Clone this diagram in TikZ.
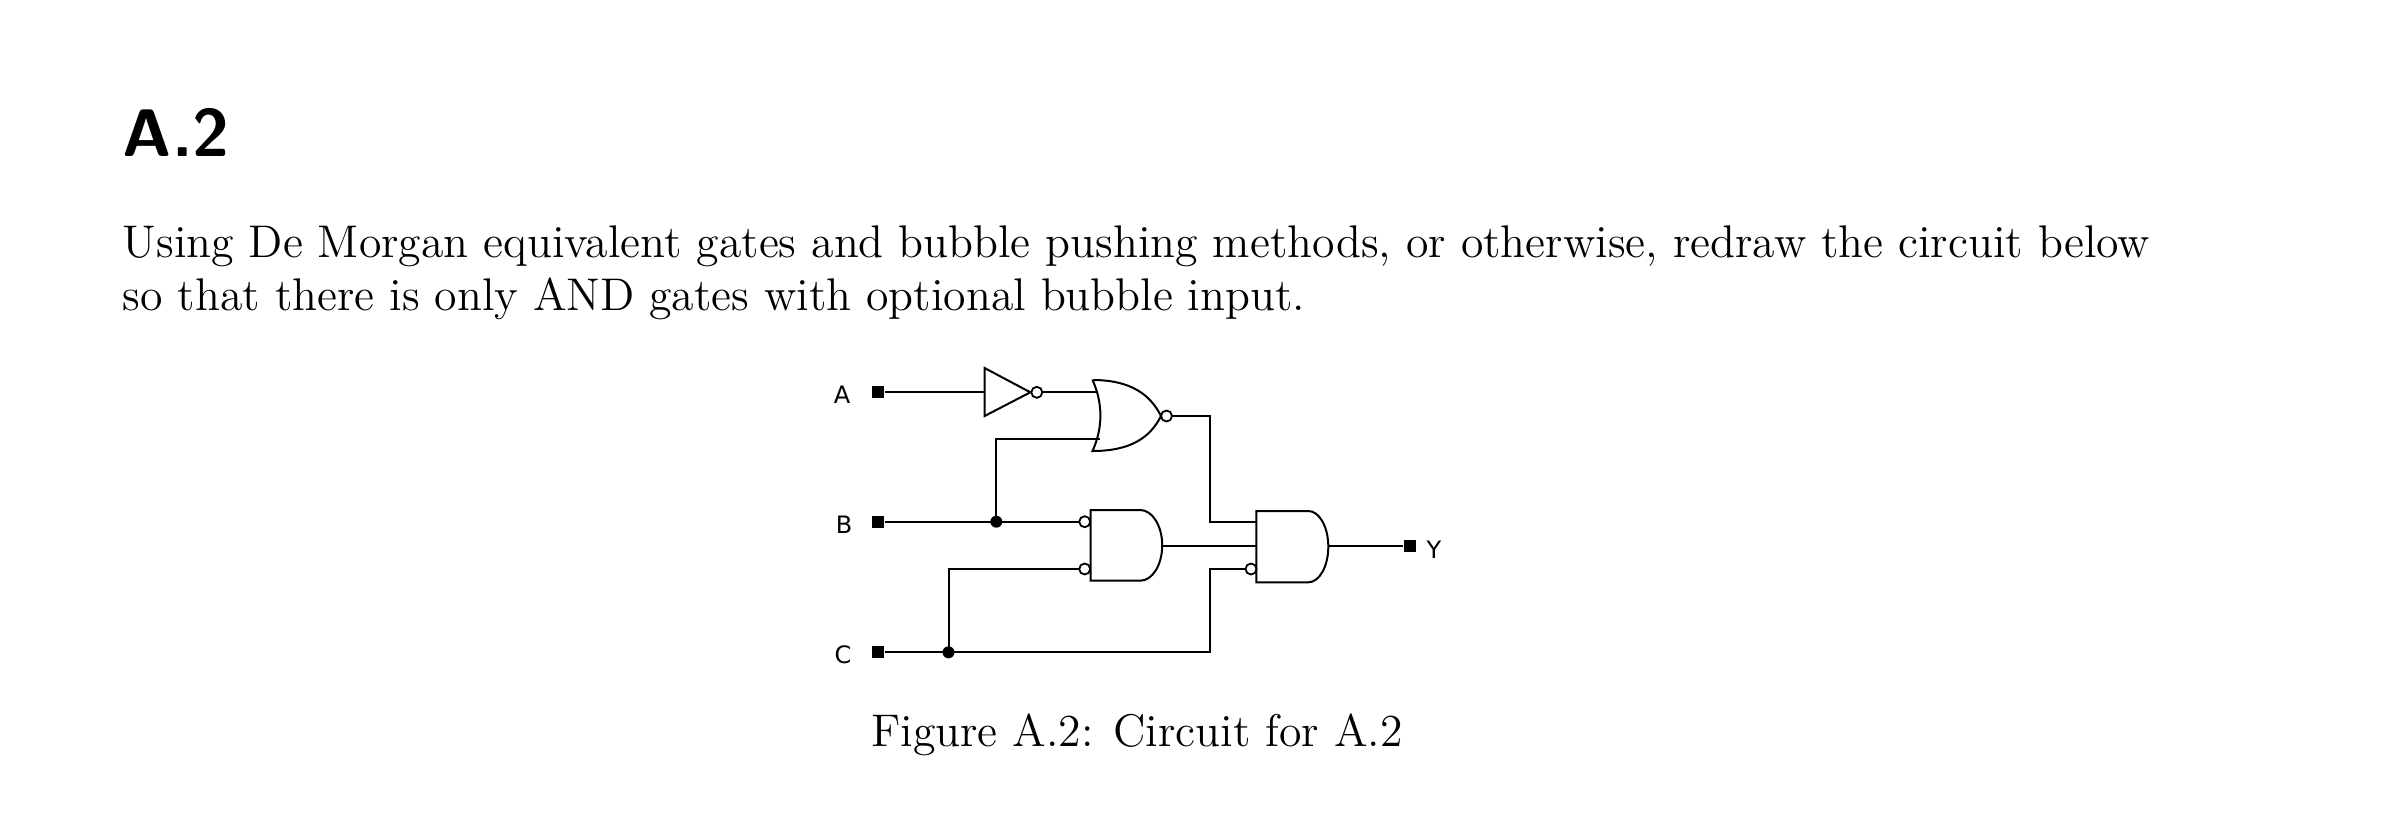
\documentclass[tikz,border=0pt]{standalone}
\usepackage{fontspec}
\newfontfamily\lblfont{DejaVu Sans}
\begin{document}
\begin{tikzpicture}[x=0.25pt,y=-0.25pt,
  wire/.style={line width=0.5pt},
  term/.style={fill=black,minimum size=3pt,inner sep=0pt},
  bub/.style={draw,fill=white,line width=0.45pt},
  lbl/.style={font=\lblfont\fontsize{6}{7}\selectfont},
  body/.style={font=\fontsize{11.45}{14}\selectfont,inner sep=0pt}]
\useasboundingbox (0,0) rectangle (2396,836);
\node[anchor=base west,inner sep=0pt,font=\sffamily\bfseries\fontsize{16.8}{20}\selectfont] (h) at (122,156) {A.2};
\node[body,anchor=base west] (l1) at (122,257) {Using De Morgan equivalent gates and bubble pushing methods, or otherwise, redraw the circuit below};
\node[body,anchor=base west] (l2) at (122,310) {so that there is only AND gates with optional bubble input.};
\node[body,anchor=base] (cap) at (1137,746) {Figure A.2: Circuit for A.2};
% terminals
\node[term] (A) at (878,392.3) {};
\node[term] (B) at (878,521.7) {};
\node[term] (C) at (878,652.3) {};
\node[term] (Y) at (1410,545.7) {};
\node[lbl] (la) at (842,395) {A};
\node[lbl] (lb) at (844,525) {B};
\node[lbl] (lc) at (843,655) {C};
\node[lbl] (ly) at (1434,550) {Y};
\coordinate (Bj) at (996.3,521.7);
\coordinate (Cj) at (948.5,652.3);
% NOT
\draw[wire] (A) -- (984.6,392.3);
\draw[wire] (984.6,368) -- (1030.3,392.3) -- (984.6,416) -- cycle;
\draw[wire] (1042.3,392.3) -- (1096,392.3);
\draw[bub] (1036.8,392.3) circle (5.5);
% OR
\draw[wire] (1092.5,380) .. controls (1103,403) and (1103,428) .. (1092.5,451)
  .. controls (1130,451) and (1150,438) .. (1161,416)
  .. controls (1150,394) and (1130,380) .. (1092.5,380);
\draw[bub] (1166.5,416) circle (5.5);
\draw[wire] (1172,416) -- (1209.5,416) -- (1209.5,521.7) -- (1256.4,521.7);
% B
\draw[wire] (B) -- (1078.7,521.7);
\draw[wire] (Bj) -- (996.3,439) -- (1100,439);
\fill (Bj) circle (6);
% AND1
\draw[wire] (1140.2,510) -- (1090.5,510) -- (1090.5,580.7) -- (1140.2,580.7) arc[start angle=90,end angle=-90,x radius=22,y radius=35.35];
\draw[bub] (1084.7,521.7) circle (5.5);
\draw[bub] (1084.7,569) circle (5.5);
\draw[wire] (1162.2,545.7) -- (1256.4,545.7);
% C
\draw[wire] (C) -- (1209.5,652.3) -- (1209.5,569) -- (1245.5,569);
\draw[wire] (Cj) -- (948.5,569) -- (1079.2,569);
\fill (Cj) circle (6);
% AND2
\draw[wire] (1308.3,511) -- (1256.4,511) -- (1256.4,582.3) -- (1308.3,582.3) arc[start angle=90,end angle=-90,x radius=20,y radius=35.65];
\draw[bub] (1251,569) circle (5.5);
\draw[wire] (1328.3,545.7) -- (Y);
\end{tikzpicture}
\end{document}
